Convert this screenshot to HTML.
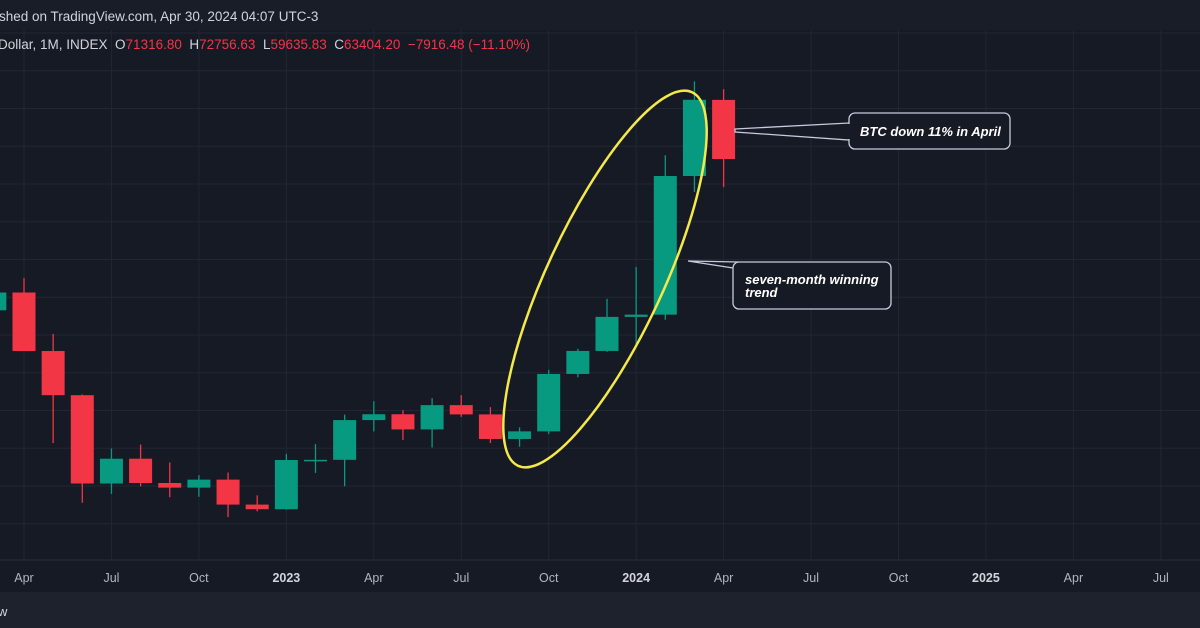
<!DOCTYPE html>
<html><head><meta charset="utf-8"><style>
html,body{margin:0;padding:0;background:#161a25;}
svg{display:block;font-family:"Liberation Sans",sans-serif;}
</style></head><body>
<svg id="chart" width="1200" height="628" viewBox="0 0 1200 628" xmlns="http://www.w3.org/2000/svg">
<rect x="0" y="0" width="1200" height="628" fill="#161a25"/>
<rect x="0" y="0" width="1200" height="30" fill="#191d28"/>
<g id="grid"></g>
<text x="-4" y="21" font-size="13.5" fill="#d1d4dc">ished on TradingView.com, Apr 30, 2024 04:07 UTC-3</text>
<text x="-2" y="49" font-size="13.5" fill="#d1d4dc" xml:space="preserve" style="white-space:pre">Dollar, 1M, INDEX  O<tspan fill="#f23645">71316.80</tspan>  H<tspan fill="#f23645">72756.63</tspan>  L<tspan fill="#f23645">59635.83</tspan>  C<tspan fill="#f23645">63404.20</tspan>  <tspan fill="#f23645">−7916.48 (−11.10%)</tspan></text>
<g id="candles"></g>
<ellipse cx="605" cy="279" rx="58" ry="206" transform="rotate(25 605 279)" fill="none" stroke="#f5e94a" stroke-width="2.5"/>
<g>
<path d="M735 129 L849 123 L849 140 L735 132 Z" fill="#161a25" stroke="#c9c9dd" stroke-width="1.3"/>
<rect x="849" y="113" width="161" height="36" rx="6" fill="#161a25" stroke="#c9c9dd" stroke-width="1.3"/>
<rect x="846" y="124" width="5" height="15" fill="#161a25"/>
<text x="860" y="136" font-size="13" font-weight="bold" font-style="italic" fill="#ffffff">BTC down 11% in April</text>
</g>
<g>
<rect x="733" y="262" width="158" height="47" rx="6" fill="#161a25" stroke="#c9c9dd" stroke-width="1.3"/>
<path d="M688 261 L739 262 M688 261 L733 268" fill="none" stroke="#c9c9dd" stroke-width="1.3"/>
<text x="745" y="284" font-size="13" font-weight="bold" font-style="italic" fill="#ffffff">seven-month winning</text>
<text x="745" y="297" font-size="13" font-weight="bold" font-style="italic" fill="#ffffff">trend</text>
</g>
<g id="xaxis"></g>
<rect x="0" y="592" width="1200" height="36" fill="#1e222d"/>
<text x="-2" y="616" font-size="13" fill="#d1d4dc">w</text>
</svg>
<script>
const months = ["2022-03","2022-04","2022-05","2022-06","2022-07","2022-08","2022-09","2022-10","2022-11","2022-12","2023-01","2023-02","2023-03","2023-04","2023-05","2023-06","2023-07","2023-08","2023-09","2023-10","2023-11","2023-12","2024-01","2024-02","2024-03","2024-04"];
const opens  = [43160,45540,37710,31800,19980,23300,20050,19430,20500,17160,16540,23130,23150,28470,29250,27220,30470,29230,25940,26960,34640,37720,42280,42580,61130,71316.8];
const highs  = [48100,47450,40000,31900,24670,25200,22800,21100,21450,18400,23950,25250,29200,31000,29800,31400,31800,30200,27500,35200,38000,44700,48970,63900,73800,72756.63];
const lows   = [37700,37700,25400,17400,18580,19600,18150,18200,15500,16260,16500,21400,19600,26950,25800,24800,28900,25400,24900,26600,34200,37600,38500,41900,59000,59635.83];
const closes = [45540,37710,31800,19980,23300,20050,19430,20500,17160,16540,23130,23150,28470,29250,27220,30470,29230,25940,26960,34640,37720,42280,42580,61130,71330,63404.2];
const tickLabels = ["Apr","Jul","Oct","2023","Apr","Jul","Oct","2024","Apr","Jul","Oct","2025","Apr","Jul"];
const tickMonthIdx = [1,4,7,10,13,16,19,22,25,28,31,34,37,40];

const NS="http://www.w3.org/2000/svg";
const monthW=29.15, x0=24-monthW;
function xScale(i){return x0+i*monthW;}
function yScale(p){return 517-(p-15500)*0.007473;}
function mk(tag,attrs,parent){const e=document.createElementNS(NS,tag);for(const k in attrs)e.setAttribute(k,attrs[k]);parent.appendChild(e);return e;}

const grid=document.getElementById('grid');
for(let k=0;k<16;k++){
  const y=33+k*37.75;
  if(y>560)break;
  const l=mk('line',{x1:0,x2:1200,y1:y,y2:y,stroke:'#222632','stroke-width':1},grid);
  
  
}
tickMonthIdx.forEach(function(m){
  const x=xScale(m);
  const l=mk('line',{x1:x,x2:x,y1:30,y2:560,stroke:'#222632','stroke-width':1},grid);
  
  
});

const cg=document.getElementById('candles');
months.forEach(function(m,i){
  const up=closes[i]>=opens[i];
  const col=up?'#089981':'#f23645';
  const x=xScale(i);
  const g=mk('g',{},cg);
  
  
  mk('line',{x1:x,x2:x,y1:yScale(highs[i]),y2:yScale(lows[i]),stroke:col,'stroke-width':1.3},g);
  const yt=yScale(Math.max(opens[i],closes[i])), yb=yScale(Math.min(opens[i],closes[i]));
  mk('rect',{x:x-11.5,y:yt,width:23,height:Math.max(yb-yt,1.5),fill:col},g);
});

const xa=document.getElementById('xaxis');
mk('line',{x1:0,x2:1200,y1:560,y2:560,stroke:'#2a2e39','stroke-width':1},xa);
tickLabels.forEach(function(t,k){
  const isYear=/^\d{4}$/.test(t);
  const tx=mk('text',{x:xScale(tickMonthIdx[k]),y:582,'text-anchor':'middle','font-size':12.5,fill:isYear?'#d1d4dc':'#b2b5be','font-weight':isYear?'bold':'normal'},xa);
  tx.textContent=t;
  
  
});
</script>
</body></html>
